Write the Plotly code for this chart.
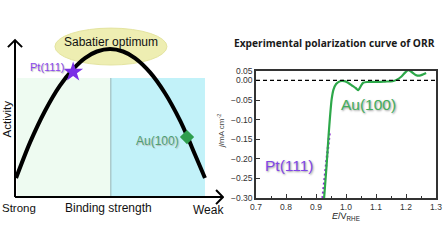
import plotly.graph_objects as go

# ---------------- data ----------------
# Left schematic: volcano curve (binding strength -> activity, arbitrary units)
binding = [0.5, 7.2, 14.4, 21.5, 27.8, 33.5, 39.2, 45.5, 51.7, 57.4, 64.6, 71.8, 79.0, 82.3, 86.1, 90.9]
activity = [12.1, 34.8, 55.0, 71.0, 81.5, 88.5, 92.7, 94.3, 92.7, 88.5, 79.4, 66.1, 48.7, 39.1, 27.1, 12.1]
pt_point = (27.8, 79.6)
au_point = (82.3, 38.2)

# Right: experimental ORR polarization curves
E_au = [0.927, 0.935, 0.942, 0.947, 0.952, 0.958, 0.967, 0.980, 0.995, 1.007, 1.020, 1.033,
        1.041, 1.049, 1.057, 1.070, 1.100, 1.130, 1.155, 1.170, 1.185, 1.197, 1.207, 1.218,
        1.232, 1.245, 1.256, 1.267]
j_au = [-0.300, -0.220, -0.140, -0.090, -0.049, -0.024, -0.009, -0.002, -0.002, -0.006, -0.013, -0.020,
        -0.025, -0.015, -0.006, -0.004, -0.004, -0.003, -0.002, 0.002, 0.010, 0.020, 0.026, 0.022,
        0.014, 0.012, 0.015, 0.019]
E_pt = [0.922, 0.930, 0.938, 0.945]
j_pt = [-0.300, -0.245, -0.190, -0.135]

x_ticks = [0.7, 0.8, 0.9, 1.0, 1.1, 1.2, 1.3]
x_ticktext = ["0.7", "0.8", "0.9", "1.0", "1.1", "1.2", "1.3"]
y_top = 0.024
y_ticks = [y_top, 0.0, -0.05, -0.10, -0.15, -0.20, -0.25, -0.30]
y_ticktext = ["0.05", "0.00", "\u22120.05", "\u22120.10", "\u22120.15", "\u22120.20", "\u22120.25", "\u22120.30"]

W, H = 448, 252
FONT = "Liberation Sans, Arial, sans-serif"

fig = go.Figure()

# ---------- left schematic ----------
fig.add_trace(go.Scatter(x=binding, y=activity, mode="lines", xaxis="x", yaxis="y",
                         line=dict(color="black", width=4, shape="spline", smoothing=0.8),
                         hoverinfo="skip", showlegend=False))
fig.add_trace(go.Scatter(x=[pt_point[0]], y=[pt_point[1]], mode="markers", xaxis="x", yaxis="y",
                         marker=dict(symbol="star", size=15, color="#7A2FE6", line=dict(width=0)),
                         showlegend=False))
fig.add_trace(go.Scatter(x=[au_point[0]], y=[au_point[1]], mode="markers", xaxis="x", yaxis="y",
                         marker=dict(symbol="diamond", size=11, color="#2E9E4E", line=dict(width=0)),
                         showlegend=False))

# ---------- right plot ----------
fig.add_trace(go.Scatter(x=E_pt, y=j_pt, mode="lines", xaxis="x2", yaxis="y2",
                         line=dict(color="#8E2BD0", width=2.5, dash="2px,2.5px"),
                         showlegend=False))
fig.add_trace(go.Scatter(x=E_au, y=j_au, mode="lines", xaxis="x2", yaxis="y2",
                         line=dict(color="#2DA84A", width=2.2, shape="spline", smoothing=0.6),
                         showlegend=False))

shapes = [
    # background panels
    dict(type="rect", xref="x", yref="y", x0=1.0, x1=45.5, y0=0.6, y1=75.8,
         fillcolor="#EEFBF1", line=dict(width=0), layer="below"),
    dict(type="rect", xref="x", yref="y", x0=45.5, x1=90.9, y0=0.6, y1=75.8,
         fillcolor="#C2F2F9", line=dict(width=0), layer="below"),
    dict(type="line", xref="x", yref="y", x0=45.8, x1=45.8, y0=0.6, y1=75.8,
         line=dict(color="rgba(160,185,185,0.7)", width=1.5), layer="below"),
    # optimum ellipse
    dict(type="circle", xref="x", yref="y", x0=19.1, x1=72.7, y0=84.1, y1=107.6,
         fillcolor="#EEEEB2", line=dict(color="#E4E4A0", width=1), layer="below"),
    # axes arrows
    dict(type="line", xref="x", yref="y", x0=0, x1=0, y0=0, y1=100,
         line=dict(color="black", width=2)),
    dict(type="path", xref="x", yref="y", path="M -3.4 95.5 L 0 100 L 3.4 95.5",
         line=dict(color="black", width=2)),
    dict(type="line", xref="x", yref="y", x0=0, x1=99.5, y0=0, y1=0,
         line=dict(color="black", width=2)),
    dict(type="path", xref="x", yref="y", path="M 96.2 4.5 L 99.5 0 L 96.2 -4.5",
         line=dict(color="black", width=2)),
    # zero dashed line
    dict(type="line", xref="x2 domain", yref="y2", x0=0, x1=1, y0=0, y1=0,
         line=dict(color="black", width=1.2, dash="4px,3px")),
]

C = dict(showarrow=False, xanchor="center", yanchor="middle")
anns = [
    dict(text="Sabatier optimum", x=45.9, y=98.7, xref="x", yref="y",
         font=dict(family=FONT, size=12, color="#111"), **C),
    dict(text="Pt(111)", x=15.3, y=82.8, xref="x", yref="y",
         font=dict(family=FONT, size=11, color="#8A48EC", shadow="1px 1px 1px #bbb"), **C),
    dict(text="Au(100)", x=68.4, y=35.7, xref="x", yref="y",
         font=dict(family=FONT, size=12, color="#4E9E72", shadow="1px 1px 1px #bbb"), **C),
    dict(text="Activity", x=-3.6, y=49.7, xref="x", yref="y", textangle=-90,
         font=dict(family=FONT, size=11.5, color="#111"), **C),
    dict(text="Strong", x=1.9, y=-7.0, xref="x", yref="y",
         font=dict(family=FONT, size=11.5, color="#111"), **C),
    dict(text="Binding strength", x=44.5, y=-7.0, xref="x", yref="y",
         font=dict(family=FONT, size=12, color="#111"), **C),
    dict(text="Weak", x=92.8, y=-8.3, xref="x", yref="y",
         font=dict(family=FONT, size=12, color="#111"), **C),
    # right panel
    dict(text="<b>Experimental polarization curve of ORR</b>", x=334 / W, y=1 - 43 / H,
         xref="paper", yref="paper",
         font=dict(family="Open Sans, sans-serif", size=10.2, color="#1a1a1a"), **C),
    dict(text="<i>E</i>/V<sub>RHE</sub>", x=346 / W, y=1 - 216 / H, xref="paper", yref="paper",
         font=dict(family=FONT, size=9, color="#222"), **C),
    dict(text="<i>j</i>/mA cm<sup>-2</sup>", x=221 / W, y=1 - 131 / H, xref="paper", yref="paper",
         textangle=-90, font=dict(family=FONT, size=8, color="#444"), **C),
    dict(text="Au(100)", x=368 / W, y=1 - 104 / H, xref="paper", yref="paper",
         font=dict(family=FONT, size=15.5, color="#43AD5C", shadow="1px 1px 2px #999"), **C),
    dict(text="Pt(111)", x=289 / W, y=1 - 165 / H, xref="paper", yref="paper",
         font=dict(family=FONT, size=15.5, color="#8046E6", shadow="1px 1px 2px #999"), **C),
]

fig.update_layout(
    width=W, height=H, margin=dict(l=0, r=0, t=0, b=0, pad=0), autosize=False,
    paper_bgcolor="white", plot_bgcolor="rgba(0,0,0,0)",
    showlegend=False,
    shapes=shapes, annotations=anns,
    xaxis=dict(domain=[0, 0.5], range=[-7.18, 100], visible=False, fixedrange=True,
               automargin=False),
    yaxis=dict(domain=[0, 1], range=[-35.0, 125.5], visible=False, fixedrange=True,
               automargin=False),
    xaxis2=dict(domain=[256 / W, 436 / W], range=[0.7, 1.3], anchor="y2", automargin=False,
                tickvals=x_ticks, ticktext=x_ticktext, ticks="inside", ticklen=4, tickwidth=1,
                tickcolor="#333", minor=dict(ticks="inside", ticklen=2.5, dtick=0.05, tick0=0.7,
                                             tickcolor="#333"),
                showline=True, linecolor="#333", linewidth=1.5, mirror=True, showgrid=False,
                zeroline=False, tickfont=dict(family=FONT, size=8.5, color="#333")),
    yaxis2=dict(domain=[1 - 198 / H, 1 - 71 / H], range=[-0.30, y_top], anchor="x2",
                automargin=False,
                tickvals=y_ticks, ticktext=y_ticktext, ticks="inside", ticklen=4, tickwidth=1,
                tickcolor="#333", showline=True, linecolor="#333", linewidth=1.5, mirror=True,
                showgrid=False, zeroline=False, tickfont=dict(family=FONT, size=8.5, color="#333")),
)

fig.write_html("out.html", config={"displayModeBar": False},
               post_script="document.body.style.margin='0';document.body.style.padding='0';")
